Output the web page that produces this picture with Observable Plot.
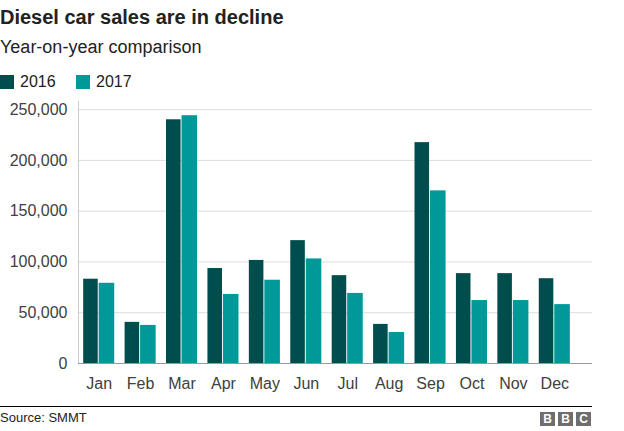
<!DOCTYPE html>
<html>
<head>
<meta charset="utf-8">
<script src="https://cdn.jsdelivr.net/npm/d3@7"></script>
<script src="https://cdn.jsdelivr.net/npm/@observablehq/plot@0.6"></script>
<style>
  html, body { margin: 0; padding: 0; background: #fff; }
  body { font-family: "Liberation Sans", Arial, Helvetica, sans-serif; }
  #wrap { position: relative; width: 624px; height: 431px; overflow: hidden; }
  .abs { position: absolute; white-space: nowrap; }
  #title { left: 0; top: 7px; font-size: 20px; line-height: 20px; font-weight: bold; color: #222; }
  #subtitle { left: 0; top: 38px; font-size: 18px; line-height: 18px; color: #222; }
  .sw { position: absolute; width: 14px; height: 14px; top: 75px; }
  .lt { position: absolute; top: 74px; font-size: 16px; line-height: 16px; color: #222; }
  #chart { position: absolute; left: 0; top: 97px; }
  #rule { position: absolute; left: 0; top: 406px; width: 592px; height: 1px; background: #000; }
  #source { left: 0; top: 411px; font-size: 13px; line-height: 13px; color: #222; }
  .bbc { position: absolute; top: 412px; width: 15px; height: 14px; background: #6e6e6e; color: #fff;
         font-size: 12px; line-height: 14px; font-weight: bold; text-align: center; }
</style>
</head>
<body>
<div id="wrap">
  <div id="title" class="abs">Diesel car sales are in decline</div>
  <div id="subtitle" class="abs">Year-on-year comparison</div>
  <div class="sw" style="left:0;background:#004d4d"></div>
  <div class="lt" style="left:20px">2016</div>
  <div class="sw" style="left:76px;background:#009999"></div>
  <div class="lt" style="left:96px">2017</div>
  <div id="chart"></div>
  <div id="rule"></div>
  <div id="source" class="abs">Source: SMMT</div>
  <div class="bbc" style="left:540px">B</div>
  <div class="bbc" style="left:558px">B</div>
  <div class="bbc" style="left:576px">C</div>
</div>
<script>
const months = ["Jan","Feb","Mar","Apr","May","Jun","Jul","Aug","Sep","Oct","Nov","Dec"];
const sales2016 = [83000, 40500, 240000, 93500, 101500, 121000, 86500, 38500, 217500, 88500, 88500, 83500];
const sales2017 = [79000, 37500, 244000, 68000, 82000, 103000, 69000, 30500, 170000, 62000, 62000, 58000];
const yTicks = [0, 50000, 100000, 150000, 200000, 250000];

const d16 = months.map((m, i) => ({month: m, value: sales2016[i]}));
const d17 = months.map((m, i) => ({month: m, value: sales2017[i]}));

const chart = Plot.plot({
  width: 624,
  height: 300,
  marginTop: 4,
  marginBottom: 34,
  marginLeft: 78,
  marginRight: 32,
  style: {fontFamily: "'Liberation Sans', Arial, sans-serif", fontSize: "16px", color: "#404040", background: "transparent"},
  x: {domain: months, range: [78, 575], paddingInner: 0.25, paddingOuter: 0.125, round: false, label: null},
  y: {domain: [0, 258000], label: null},
  marks: [
    Plot.gridY(yTicks, {stroke: "#dddddd", strokeOpacity: 1}),
    Plot.frame({anchor: "left", stroke: "#cccccc"}),
    Plot.barY(d16, {x: "month", y: "value", fill: "#004d4d", insetRight: 16.5}),
    Plot.barY(d17, {x: "month", y: "value", fill: "#009999", insetLeft: 15.5}),
    Plot.ruleY([0], {stroke: "#999999"}),
    Plot.axisY({ticks: yTicks, tickSize: 0, tickPadding: 11, tickFormat: d3.format(","), label: null, fontSize: 16}),
    Plot.axisX({tickSize: 0, tickPadding: 14, label: null, fontSize: 16})
  ]
});
document.getElementById("chart").appendChild(chart);
</script>
</body>
</html>
